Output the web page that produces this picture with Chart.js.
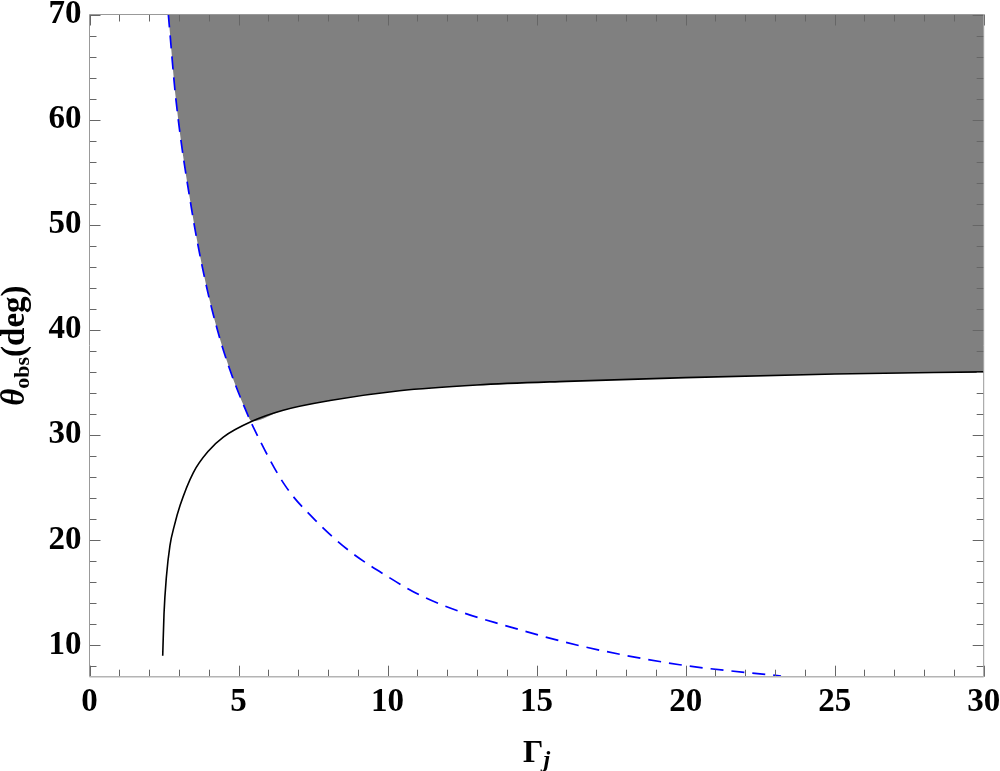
<!DOCTYPE html>
<html>
<head>
<meta charset="utf-8">
<script src="https://cdn.jsdelivr.net/npm/chart.js@4.4.1/dist/chart.umd.min.js"></script>
<style>
    html, body { margin: 0; padding: 0; background: #fff; }
    #wrap { width: 1000px; height: 771px; }
</style>
</head>
<body>
<div id="wrap"><canvas id="chart" width="1000" height="771"></canvas></div>
<script>
// Blue dashed boundary
var dashGamma = [2.645, 2.90, 3.43, 3.88, 4.29, 4.71, 5.22, 5.52, 6.56, 7.57, 8.68, 9.92, 11.2, 12.6, 13.7, 16.46, 19.8, 23.2];
var dashTheta = [70.0, 61.9, 51.4, 44.7, 40.0, 36.2, 32.5, 30.6, 25.2, 21.9, 19.05, 16.67, 14.6, 13.03, 12.07, 9.94, 8.14, 7.06];

// Black solid curve
var solidGamma = [2.456, 2.50, 2.58, 2.70, 2.84, 3.04, 3.48, 4.0, 4.49, 5.45, 6.5, 8.07, 10.4, 13.0, 16.0, 20.0, 25.0, 30.0];
var solidTheta = [9.0, 13.0, 16.5, 19.5, 21.3, 23.3, 26.4, 28.5, 29.8, 31.3, 32.35, 33.27, 34.2, 34.75, 35.1, 35.45, 35.8, 36.0];

// where the two curves cross
var crossGamma = 5.45;
var crossTheta = 31.3;

var xTicks = [0, 5, 10, 15, 20, 25, 30];
var yTicks = [10, 20, 30, 40, 50, 60, 70];

var tickFont = { family: '"Liberation Serif", "Times New Roman", serif', size: 33, weight: 'bold' };

function toPoints(xs, ys) {
    return xs.map(function (x, i) { return { x: x, y: ys[i] }; });
}

// lower edge of the shaded region: dashed curve up to the crossing, then the solid one
var shadeEdge = toPoints(dashGamma, dashTheta).filter(function (p) { return p.x < crossGamma; })
    .concat([{ x: crossGamma, y: crossTheta }])
    .concat(toPoints(solidGamma, solidTheta).filter(function (p) { return p.x > crossGamma; }));

// frame with inward ticks on all four sides
var frameTicks = {
    id: 'frameTicks',
    afterDatasetsDraw: function (chart) {
        var ctx = chart.ctx, a = chart.chartArea;
        var xs = chart.scales.x, ys = chart.scales.y;

        function seg(x1, y1, x2, y2) {
            ctx.beginPath(); ctx.moveTo(x1, y1); ctx.lineTo(x2, y2); ctx.stroke();
        }

        ctx.save();
        ctx.lineWidth = 1;
        ctx.strokeStyle = '#666';
        for (var v = 0; v <= 30; v++) {
            var px = Math.round(xs.getPixelForValue(v)) + 0.5;
            var len = (v % 5 === 0) ? 11 : 7;
            seg(px, a.bottom, px, a.bottom - len);
            seg(px, a.top, px, a.top + len);
        }
        for (var w = 8; w <= 70; w += 2) {
            var py = Math.round(ys.getPixelForValue(w)) + 0.5;
            var l2 = (w % 10 === 0) ? 11 : 7;
            seg(a.left, py, a.left + l2, py);
            seg(a.right, py, a.right - l2, py);
        }

        ctx.strokeStyle = '#999';
        seg(a.left, a.top, a.right, a.top);
        seg(a.left, a.top, a.left, a.bottom);
        seg(a.right, a.top, a.right, a.bottom);
        ctx.strokeStyle = '#b4b4b4';
        ctx.lineWidth = 1.5;
        seg(a.left, a.bottom, a.right, a.bottom);
        ctx.restore();
    }
};

// axis titles with subscripts
var axisTitles = {
    id: 'axisTitles',
    afterDraw: function (chart) {
        var ctx = chart.ctx, a = chart.chartArea;
        var serif = '"Liberation Serif", "Times New Roman", serif';

        function drawParts(parts, x0, y0) {
            var x = x0;
            parts.forEach(function (p) {
                ctx.font = p.f;
                ctx.fillText(p.t, x, y0 + p.dy);
                x += ctx.measureText(p.t).width;
            });
        }
        function widthOf(parts) {
            var w = 0;
            parts.forEach(function (p) { ctx.font = p.f; w += ctx.measureText(p.t).width; });
            return w;
        }

        ctx.save();
        ctx.fillStyle = '#000';
        ctx.textAlign = 'left';
        ctx.textBaseline = 'alphabetic';

        var yParts = [
            { t: 'θ', f: 'italic bold 33px ' + serif, dy: 0 },
            { t: 'obs', f: 'bold 22px ' + serif, dy: 5 },
            { t: '(deg)', f: 'bold 33px ' + serif, dy: 0 }
        ];
        ctx.save();
        ctx.translate(24, (a.top + a.bottom) / 2);
        ctx.rotate(-Math.PI / 2);
        drawParts(yParts, -widthOf(yParts) / 2, 0);
        ctx.restore();

        var xParts = [
            { t: 'Γ', f: 'bold 32px ' + serif, dy: 0 },
            { t: 'j', f: 'italic bold 24px ' + serif, dy: 5 }
        ];
        drawParts(xParts, (a.left + a.right) / 2 - widthOf(xParts) / 2, 762);
        ctx.restore();
    }
};

var ctx = document.getElementById('chart').getContext('2d');
var chart = new Chart(ctx, {
    type: 'scatter',
    data: {
        datasets: [{
            label: 'solid',
            data: toPoints(solidGamma, solidTheta),
            showLine: true,
            borderColor: '#000',
            borderWidth: 1.6,
            pointRadius: 0,
            fill: false,
            cubicInterpolationMode: 'monotone',
            order: 0
        }, {
            label: 'dashed',
            data: toPoints(dashGamma, dashTheta),
            showLine: true,
            borderColor: '#0000ff',
            borderWidth: 1.7,
            borderDash: [13, 8],
            pointRadius: 0,
            fill: false,
            cubicInterpolationMode: 'monotone',
            order: 1
        }, {
            label: 'shade',
            data: shadeEdge,
            showLine: true,
            borderWidth: 0,
            borderColor: 'rgba(0,0,0,0)',
            backgroundColor: '#808080',
            pointRadius: 0,
            fill: 'end',
            cubicInterpolationMode: 'monotone',
            order: 2
        }]
    },
    options: {
        responsive: false,
        animation: false,
        layout: { padding: { left: 0, top: 14.5, right: 16.3, bottom: 0 } },
        scales: {
            x: {
                type: 'linear',
                min: 0,
                max: 30,
                afterBuildTicks: function (scale) {
                    scale.ticks = xTicks.map(function (v) { return { value: v }; });
                },
                afterFit: function (scale) {
                    scale.height = 94.3;
                    scale.paddingLeft = 0;
                    scale.paddingRight = 0;
                },
                grid: { display: false, drawTicks: false },
                border: { display: false },
                ticks: { font: tickFont, color: '#000', padding: 6, maxRotation: 0 }
            },
            y: {
                type: 'linear',
                min: 7,
                max: 70,
                afterBuildTicks: function (scale) {
                    scale.ticks = yTicks.map(function (v) { return { value: v }; });
                },
                afterFit: function (scale) {
                    scale.width = 89.5;
                    scale.paddingTop = 0;
                    scale.paddingBottom = 0;
                },
                grid: { display: false, drawTicks: false },
                border: { display: false },
                ticks: { font: tickFont, color: '#000', padding: 8 }
            }
        },
        plugins: {
            legend: { display: false },
            tooltip: { enabled: false },
            filler: { propagate: false }
        }
    },
    plugins: [frameTicks, axisTitles]
});
</script>
</body>
</html>
